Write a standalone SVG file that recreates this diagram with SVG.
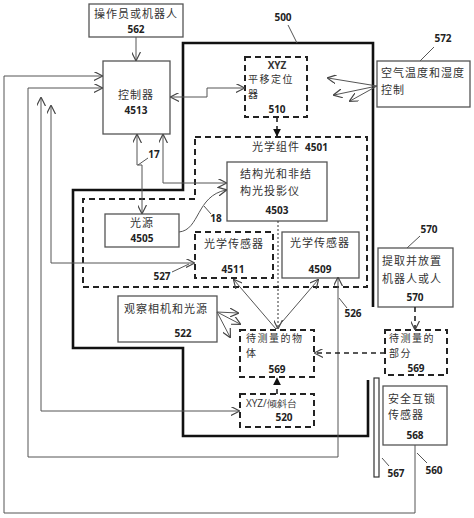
<svg xmlns="http://www.w3.org/2000/svg" width="474" height="518" viewBox="0 0 474 518">
<style>
.box{fill:none;stroke:#555;stroke-width:1.3}
.dbox{fill:none;stroke:#222;stroke-width:2;stroke-dasharray:6,4}
.ln{fill:none;stroke:#555;stroke-width:1}
.thick{fill:none;stroke:#111;stroke-width:2.6}
.dl{fill:none;stroke:#222;stroke-width:1.6;stroke-dasharray:5,4}
.dot{fill:none;stroke:#333;stroke-width:1;stroke-dasharray:2,2}
.zh{font-family:"Noto Sans CJK SC","Noto Sans",sans-serif;font-size:11px;fill:#333;letter-spacing:1px}
.zs{font-size:10px;letter-spacing:1.5px}
.num{font-family:"Open Sans","Liberation Sans",sans-serif;font-size:10px;font-weight:bold;fill:#222}
.lat{font-family:"Open Sans","Liberation Sans",sans-serif;font-size:10px;fill:#333}
</style>
<defs>
<marker id="oa" viewBox="0 0 10 10" refX="9" refY="5" markerWidth="9" markerHeight="9" markerUnits="userSpaceOnUse" orient="auto-start-reverse">
<path d="M0,0 L10,5 L0,10" fill="none" stroke="#444" stroke-width="1.3"/>
</marker>
<marker id="fa" viewBox="0 0 10 10" refX="9" refY="5" markerWidth="8" markerHeight="8" markerUnits="userSpaceOnUse" orient="auto">
<path d="M0,0 L10,5 L0,10 Z" fill="#111"/>
</marker>
</defs>
<rect width="474" height="518" fill="#fff"/>

<g id="boundary-500">
<path class="thick" d="M373,307 L373,43 L183,43 L183,190 L73,190 L73,348 L183,348 L183,436 L368,436 L368,380"/>
<path class="ln" d="M288,25 L297,43"/>
<text class="num" x="283" y="21" text-anchor="middle">500</text>
</g>

<g id="optics-4501">
<path class="dbox" d="M195,137 L367,137 L367,287 L83,287 L83,199 L195,199 Z"/>
<text class="zh" x="252" y="151">光学组件</text>
<text class="num" x="305" y="151">4501</text>
</g>

<g id="operator-562">
<rect class="box" x="89" y="4" width="94" height="33"/>
<text class="zh" x="136" y="18" text-anchor="middle">操作员或机器人</text>
<text class="num" x="136" y="33" text-anchor="middle">562</text>
</g>

<g id="controller-4513">
<rect class="box" x="103" y="61" width="67" height="73"/>
<text class="zh" x="136" y="99" text-anchor="middle">控制器</text>
<text class="num" x="136" y="114" text-anchor="middle">4513</text>
</g>

<g id="positioner-510">
<rect class="dbox" x="245" y="57" width="62" height="60"/>
<text class="lat" x="277" y="68.5" text-anchor="middle" font-weight="bold" font-size="9">XYZ</text>
<text class="zh zs" x="248" y="83">平移定位</text>
<text class="zh zs" x="248" y="98">器</text>
<text class="num" x="277" y="113" text-anchor="middle">510</text>
</g>

<g id="air-572">
<rect class="box" x="377" y="61" width="93" height="46"/>
<text class="zh" x="381" y="77">空气温度和湿度</text>
<text class="zh" x="381" y="94">控制</text>
<path class="ln" d="M434,47 L420,61"/>
<text class="num" x="443" y="42" text-anchor="middle">572</text>
</g>

<g id="projector-4503">
<rect class="box" x="227" y="162" width="100" height="59"/>
<text class="zh" x="240" y="178">结构光和非结</text>
<text class="zh" x="240" y="195">构光投影仪</text>
<text class="num" x="277" y="214" text-anchor="middle">4503</text>
</g>

<g id="lightsource-4505">
<rect class="box" x="105" y="214" width="74" height="33"/>
<text class="zh" x="142" y="227" text-anchor="middle">光源</text>
<text class="num" x="142" y="242" text-anchor="middle">4505</text>
</g>

<g id="sensor-4511">
<rect class="dbox" x="195" y="232" width="78" height="46"/>
<text class="zh" x="234" y="248" text-anchor="middle">光学传感器</text>
<text class="num" x="233" y="273" text-anchor="middle">4511</text>
</g>

<g id="sensor-4509">
<rect class="box" x="282" y="232" width="77" height="46"/>
<text class="zh" x="320" y="247" text-anchor="middle">光学传感器</text>
<text class="num" x="320" y="273" text-anchor="middle">4509</text>
</g>

<g id="camera-522">
<rect class="box" x="118" y="296" width="99" height="46"/>
<text class="zh" x="124" y="313">观察相机和光源</text>
<text class="num" x="183" y="337" text-anchor="middle">522</text>
</g>

<g id="object-569">
<rect class="dbox" x="240" y="330" width="74" height="47"/>
<text class="zh zs" x="246" y="342">待测量的物</text>
<text class="zh zs" x="246" y="357">体</text>
<text class="num" x="277" y="373" text-anchor="middle">569</text>
</g>

<g id="stage-520">
<rect class="dbox" x="240" y="394" width="74" height="33"/>
<text class="lat" x="246" y="407">XYZ/倾斜台</text>
<text class="num" x="284" y="421" text-anchor="middle">520</text>
</g>

<g id="pickplace-570">
<rect class="box" x="378" y="248" width="75" height="59"/>
<text class="zh" x="382" y="265">提取并放置</text>
<text class="zh" x="382" y="283">机器人或人</text>
<text class="num" x="415" y="301" text-anchor="middle">570</text>
<path class="ln" d="M420,236 L407,248"/>
<text class="num" x="429" y="233" text-anchor="middle">570</text>
</g>

<g id="part-569">
<rect class="dbox" x="385" y="330" width="62" height="45"/>
<text class="zh zs" x="389" y="342">待测量的</text>
<text class="zh zs" x="389" y="357">部分</text>
<text class="num" x="416" y="372" text-anchor="middle">569</text>
</g>

<g id="interlock-568">
<rect class="box" x="383" y="386" width="64" height="59"/>
<text class="zh" x="388" y="403">安全互锁</text>
<text class="zh" x="388" y="419">传感器</text>
<text class="num" x="415" y="439" text-anchor="middle">568</text>
</g>

<g id="door-567">
<rect x="374" y="378" width="5" height="99" fill="#fff" stroke="#333" stroke-width="1.2"/>
<path class="ln" d="M382,458 L389,466"/>
<text class="num" x="396" y="477" text-anchor="middle">567</text>
</g>

<g id="connectors">
<path class="ln" d="M136,37 L136,60" marker-end="url(#oa)"/>
<path class="ln" d="M415,445 L415,513 L4,513 L4,76 L102,76" marker-end="url(#oa)"/>
<path class="ln" d="M338,278 L338,457 L28,457 L28,88 L102,88" marker-start="url(#oa)" marker-end="url(#oa)"/>
<path class="ln" d="M41,98 L41,411 L239,411" marker-start="url(#oa)" marker-end="url(#oa)"/>
<path class="ln" d="M51,106 L51,263 L194,263" marker-start="url(#oa)" marker-end="url(#oa)"/>
<path class="ln" d="M171,97 L207,97 L207,88 L244,88" marker-start="url(#oa)" marker-end="url(#oa)"/>
<path class="ln" d="M137,135 L137,165 L142,165 L142,213" marker-start="url(#oa)" marker-end="url(#oa)"/>
<path class="ln" d="M163,135 L163,183 L226,183" marker-start="url(#oa)" marker-end="url(#oa)"/>
<path class="ln" d="M179,232 C200,230 196,196 226,190" marker-end="url(#oa)" stroke="#222" stroke-width="1.3"/>
<path class="dl" d="M277,117 L277,136" marker-end="url(#fa)"/>
<path class="dot" d="M278,221 L278,328" marker-end="url(#oa)"/>
<path class="ln" d="M276,329 L234,280" marker-end="url(#oa)"/>
<path class="ln" d="M276,329 L318,280" marker-end="url(#oa)"/>
<path class="ln" d="M217,312 L238,313" marker-end="url(#oa)"/>
<path class="ln" d="M217,312 L240,324" marker-end="url(#oa)"/>
<path class="ln" d="M217,312 L230,337" marker-end="url(#oa)"/>
<path class="ln" d="M377,86 L328,78" marker-end="url(#oa)"/>
<path class="ln" d="M377,86 L334,95" marker-end="url(#oa)"/>
<path class="ln" d="M377,86 L350,101" marker-end="url(#oa)"/>
<path class="dl" d="M277,394 L277,378" marker-end="url(#fa)"/>
<path class="dl" d="M415,307 L415,329" marker-end="url(#oa)"/>
<path class="dl" d="M385,353 L315,353" marker-end="url(#oa)"/>
<path class="ln" d="M138,165 L148,158"/>
<text class="num" x="154" y="158" text-anchor="middle">17</text>
<path class="ln" d="M211,214 L204,206"/>
<text class="num" x="216" y="222" text-anchor="middle">18</text>
<path class="ln" d="M172,272 L189,264"/>
<text class="num" x="162" y="280" text-anchor="middle">527</text>
<path class="ln" d="M347,308 L339,298"/>
<text class="num" x="353" y="317" text-anchor="middle">526</text>
<path class="ln" d="M417,453 L427,463"/>
<text class="num" x="434" y="474" text-anchor="middle">560</text>
</g>
</svg>
